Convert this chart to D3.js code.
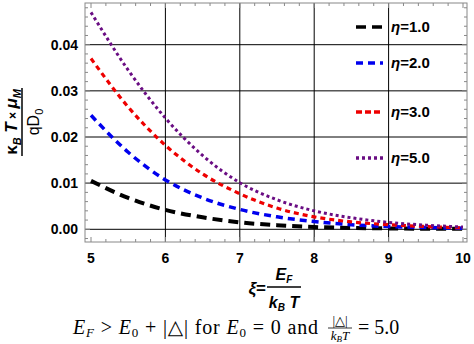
<!DOCTYPE html>
<html><head><meta charset="utf-8">
<script src="https://cdn.jsdelivr.net/npm/d3@7"></script>
<style>body{margin:0;background:#fff}svg{display:block}</style>
</head><body>
<svg id="c" width="474" height="344"></svg>
<script>
const xi = [5, 5.5, 6, 6.5, 7, 7.5, 8, 8.5, 9, 9.5, 10];
const eta1 = [0.0105, 0.0068, 0.0042, 0.0026, 0.0015, 0.0009, 0.0005, 0.0003, 0.0002, 0.0001, 0.0001];
const eta2 = [0.0247, 0.0167, 0.0107, 0.0068, 0.0043, 0.0027, 0.0017, 0.0010, 0.0006, 0.0004, 0.0002];
const eta3 = [0.0370, 0.0265, 0.0182, 0.0120, 0.0077, 0.0046, 0.0027, 0.0016, 0.0010, 0.0006, 0.0003];
const eta5 = [0.0470, 0.0345, 0.0241, 0.0160, 0.0101, 0.0064, 0.0040, 0.0025, 0.0015, 0.0009, 0.0005];
const seriesNames = ["η=1.0", "η=2.0", "η=3.0", "η=5.0"];
const xTicks = [5, 6, 7, 8, 9, 10];
const yTicks = [0, 0.01, 0.02, 0.03, 0.04];

const svg = d3.select("#c");
const L = 85, R = 467, T = 3, B = 242;
const x = d3.scaleLinear().domain([5, 10]).range([91, 463]);
const y = d3.scaleLinear().domain([0, 0.04]).range([229.3, 44.7]);

// grid
const g = svg.append("g");
[6,7,8,9].forEach(v => g.append("line").attr("x1", x(v)).attr("x2", x(v)).attr("y1", T).attr("y2", B).attr("stroke", "#000").attr("stroke-width", 1));
yTicks.forEach(v => g.append("line").attr("x1", L).attr("x2", R).attr("y1", y(v)).attr("y2", y(v)).attr("stroke", "#000").attr("stroke-width", 1));

// frame
svg.append("rect").attr("x", L).attr("y", T).attr("width", R - L).attr("height", B - T)
  .attr("fill", "none").attr("stroke", "#888").attr("stroke-width", 1);

// minor ticks
const fc = "#888";
const xMinor = d3.range(5, 10.001, 0.2);
xMinor.forEach(v => {
  const major = Math.abs(v - Math.round(v)) < 1e-6;
  const len = major ? 5 : 3;
  svg.append("line").attr("x1", x(v)).attr("x2", x(v)).attr("y1", B).attr("y2", B - len).attr("stroke", fc);
  svg.append("line").attr("x1", x(v)).attr("x2", x(v)).attr("y1", T).attr("y2", T + len).attr("stroke", fc);
});
const yMinor = d3.range(-0.002, 0.0491, 0.002);
yMinor.forEach(v => {
  const major = Math.abs(v / 0.01 - Math.round(v / 0.01)) < 1e-6;
  const len = major ? 5 : 3;
  svg.append("line").attr("x1", L).attr("x2", L + len).attr("y1", y(v)).attr("y2", y(v)).attr("stroke", fc);
  svg.append("line").attr("x1", R).attr("x2", R - len).attr("y1", y(v)).attr("y2", y(v)).attr("stroke", fc);
});

// tick labels
const tf = "'Liberation Sans', Arial, sans-serif";
xTicks.forEach(v => svg.append("text").attr("x", x(v)).attr("y", 263).attr("text-anchor", "middle")
  .attr("font-family", tf).attr("font-weight", "bold").attr("font-size", 14).text(v));
yTicks.forEach(v => svg.append("text").attr("x", 78).attr("y", y(v) + 5).attr("text-anchor", "end")
  .attr("font-family", tf).attr("font-weight", "bold").attr("font-size", 14).text(v.toFixed(2)));

// series
const colors = ["#000000", "#0000ee", "#ee0000", "#6a0d83"];
const dashes = ["10,6", "7,5", "5,4", "3,3"];
const widths = [4, 3.5, 3.2, 3];
const data = [eta1, eta2, eta3, eta5];
const line = d3.line().x((d, i) => x(xi[i])).y(d => y(d)).curve(d3.curveMonotoneX);
data.forEach((s, k) => {
  svg.append("path").datum(s).attr("d", line).attr("fill", "none")
    .attr("stroke", colors[k]).attr("stroke-width", widths[k]).attr("stroke-dasharray", dashes[k]);
});

// legend
const ly = [27, 63, 112, 158];
const legDash = ["10,6", "7,5", "6,3", "3,3"];
seriesNames.forEach((n, k) => {
  svg.append("line").attr("x1", 356).attr("x2", 383).attr("y1", ly[k]).attr("y2", ly[k])
    .attr("stroke", colors[k]).attr("stroke-width", 3.5).attr("stroke-dasharray", legDash[k]);
  const t = svg.append("text").attr("x", 391).attr("y", ly[k] + 5).attr("font-family", tf)
    .attr("font-weight", "bold").attr("font-size", 15);
  t.append("tspan").attr("font-style", "italic").text("η");
  t.append("tspan").text(n.slice(1));
});

// y label (rotated fraction)
const yl = svg.append("g").attr("transform", "translate(22,122) rotate(-90)");
const nt = yl.append("text").attr("x", 0).attr("y", -5).attr("text-anchor", "middle")
  .attr("font-family", tf).attr("font-weight", "bold").attr("font-size", 17);
nt.append("tspan").text("κ");
nt.append("tspan").attr("font-size", 11).attr("dy", 4).attr("font-style", "italic").text("B");
nt.append("tspan").attr("dy", -4).attr("font-style", "italic").text(" T");
nt.append("tspan").attr("font-size", 12).text(" × ");
nt.append("tspan").attr("font-style", "italic").text("μ");
nt.append("tspan").attr("font-size", 11).attr("dy", 4).attr("font-style", "italic").text("M");
yl.append("line").attr("x1", -34).attr("x2", 34).attr("y1", 0).attr("y2", 0).attr("stroke", "#000").attr("stroke-width", 1.5);
const dt = yl.append("text").attr("x", 0).attr("y", 17).attr("text-anchor", "middle")
  .attr("font-family", tf).attr("font-size", 16);
dt.append("tspan").text("qD");
dt.append("tspan").attr("font-size", 11).attr("dy", 4).text("0");

// x label
const xl = svg.append("text").attr("x", 266).attr("y", 294).attr("text-anchor", "end")
  .attr("font-family", tf).attr("font-weight", "bold").attr("font-size", 17);
xl.append("tspan").attr("font-style", "italic").text("ξ");
xl.append("tspan").text("=");
svg.append("line").attr("x1", 267).attr("x2", 301).attr("y1", 287).attr("y2", 287).attr("stroke", "#000").attr("stroke-width", 1.5);
const xn = svg.append("text").attr("x", 284).attr("y", 280).attr("text-anchor", "middle")
  .attr("font-family", tf).attr("font-weight", "bold").attr("font-style", "italic").attr("font-size", 16);
xn.append("tspan").text("E");
xn.append("tspan").attr("font-size", 10).attr("dy", 3).text("F");
const xd = svg.append("text").attr("x", 284).attr("y", 308).attr("text-anchor", "middle")
  .attr("font-family", tf).attr("font-weight", "bold").attr("font-style", "italic").attr("font-size", 16);
xd.append("tspan").text("k");
xd.append("tspan").attr("font-size", 10).attr("dy", 3).text("B");
xd.append("tspan").attr("dy", -3).text(" T");

// caption
const sf = "'Liberation Serif', 'DejaVu Serif', serif";
const cap = svg.append("text").attr("x", 73).attr("y", 334).attr("font-family", sf).attr("font-size", 20);
cap.append("tspan").attr("font-style", "italic").text("E");
cap.append("tspan").attr("font-style", "italic").attr("font-size", 13).attr("dy", 3).text("F");
cap.append("tspan").attr("dy", -3).text(" > ");
cap.append("tspan").attr("font-style", "italic").text("E");
cap.append("tspan").attr("font-size", 13).attr("dy", 3).text("0");
cap.append("tspan").attr("dy", -3).text(" + |△| for ");
cap.append("tspan").attr("font-style", "italic").text("E");
cap.append("tspan").attr("font-size", 13).attr("dy", 3).text("0");
cap.append("tspan").attr("dy", -3).text(" = 0 and");
// stretch to reference width (73 -> 318)
const cw = cap.node().getComputedTextLength();
cap.attr("textLength", 245).attr("lengthAdjust", "spacing");
// small fraction
const fx = 340;
svg.append("text").attr("x", fx).attr("y", 325).attr("text-anchor", "middle").attr("font-family", sf).attr("font-size", 13).text("|△|");
svg.append("line").attr("x1", fx - 12).attr("x2", fx + 12).attr("y1", 328).attr("y2", 328).attr("stroke", "#000").attr("stroke-width", 0.8);
const fd = svg.append("text").attr("x", fx).attr("y", 340).attr("text-anchor", "middle").attr("font-family", sf).attr("font-size", 13).attr("font-style", "italic");
fd.append("tspan").text("k");
fd.append("tspan").attr("font-size", 9).attr("dy", 2).text("B");
fd.append("tspan").attr("dy", -2).text("T");
svg.append("text").attr("x", 358).attr("y", 334).attr("font-family", sf).attr("font-size", 20).text("= 5.0");
</script>
</body></html>
